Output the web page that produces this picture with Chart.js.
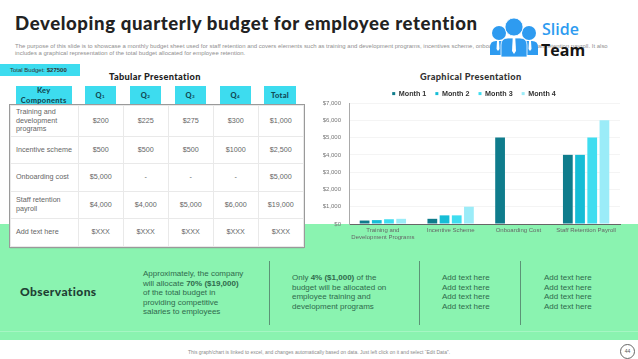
<!DOCTYPE html>
<html>
<head>
<meta charset="utf-8">
<script src="https://cdn.jsdelivr.net/npm/chart.js@4"></script>
<style>
html, body { margin: 0; padding: 0; background: #fff; }
#page { position: relative; width: 638px; height: 359px; overflow: hidden; font-family: "Liberation Sans", Arial, sans-serif; }
#page > * { position: absolute; }
.head { font-family: Lato, sans-serif; font-weight: 900; color: #222; white-space: nowrap; }
#band { left: 0; top: 224px; width: 638px; height: 116px; background: #8af3b0; }
#bandline { left: 0; top: 331px; width: 638px; height: 1px; background: #a5f6c3; }
#title { left: 15px; top: 12px; font-size: 18.6px; letter-spacing: 0.6px; }
.intro { left: 15px; font-size: 5.98px; color: #8f8f8f; white-space: nowrap; }
#budget { left: 0; top: 64px; width: 80px; height: 12px; line-height: 12px; background: #3ddcef; font-size: 6px; color: #333; text-indent: 10px; }
.hcell { top: 86px; height: 19px; background: #3ddcef; display: flex; align-items: center; justify-content: center; text-align: center; font-family: Lato, sans-serif; font-weight: 900; font-size: 7.5px; line-height: 9.5px; color: #124a55; letter-spacing: 0.3px; }
.hcell span { font-size: 4.5px; position: relative; top: 1px; }
#tbl { left: 10px; top: 105px; width: 293px; height: 141px; border-collapse: collapse; table-layout: fixed; background: #fff; outline: 1px solid #9a9a9a; box-shadow: 0 1px 1px #888; font-size: 7.2px; color: #666; }
#tbl td { border: 1px solid #e9e9e9; text-align: center; padding: 0; line-height: 8.8px; }
#tbl td:first-child { text-align: left; padding-left: 5px; }
#chartbox { left: 310px; top: 81px; width: 320px; height: 165px; }
.obs { font-size: 8px; line-height: 9.6px; color: #2f6a4c; white-space: nowrap; }
.divider { top: 261px; width: 1px; height: 64px; background: #5c9376; }
#foot { left: 0; width: 638px; top: 349px; text-align: center; font-size: 5px; color: #8a8a8a; }
#pageno { left: 620px; top: 344px; width: 13px; height: 13px; border: 1px solid #666; border-radius: 50%; text-align: center; line-height: 13px; font-size: 5px; color: #555; }
.logo { font-family: "Open Sans", sans-serif; font-weight: 600; font-size: 16px; white-space: nowrap; }
</style>
</head>
<body>
<div id="page">
  <div id="band"></div>
  <div id="bandline"></div>
  <div id="title" class="head">Developing quarterly budget for employee retention</div>
  <div class="intro" style="top:42.5px">The purpose of this slide is to showcase a monthly budget sheet used for staff retention and covers elements such as training and development programs, incentives scheme, onboarding cost, and staff retention payroll. It also</div>
  <div class="intro" style="top:49.5px">includes a graphical representation of the total budget allocated for employee retention.</div>

  <svg style="left:489px;top:17px" width="52" height="40" viewBox="0 0 52 40">
    <g fill="#2e9bf0">
      <circle cx="10" cy="16" r="7"/>
      <circle cx="40" cy="16" r="7"/>
      <path d="M1 38 V30 Q1 24 7 24 H14 V38 Z"/>
      <path d="M49 38 V30 Q49 24 43 24 H36 V38 Z"/>
      <circle cx="25" cy="10" r="9" stroke="#fff" stroke-width="0.8"/>
      <path d="M12 40 V28 Q12 21 19 21 H31 Q38 21 38 28 V40 Z" stroke="#fff" stroke-width="0.8"/>
    </g>
    <g fill="#fff">
      <path d="M23.7 21 H26.3 L27 34 L25 37 L23 34 Z"/>
      <path d="M8 24 H10 L10.5 32 L9 34 L7.5 32 Z"/>
      <path d="M40 24 H42 L42.5 32 L41 34 L39.5 32 Z"/>
    </g>
  </svg>
  <div class="logo" style="left:542px;top:18px;color:#2e9bf0">Slide</div>
  <div class="logo" style="left:541px;top:39px;color:#151515;font-weight:700">Team</div>

  <div id="budget">Total Budget: <b>$27500</b></div>
  <div class="head" style="left:109px;top:71px;font-size:9.2px;letter-spacing:0.35px">Tabular Presentation</div>
  <div class="head" style="left:420px;top:71px;font-size:9.2px;letter-spacing:0.35px;color:#333">Graphical Presentation</div>

  <div class="hcell" style="left:16px;width:55.5px">Key<br>Components</div>
  <div class="hcell" style="left:84.5px;width:31.5px">Q<span>1</span></div>
  <div class="hcell" style="left:130px;width:31px">Q<span>2</span></div>
  <div class="hcell" style="left:174.5px;width:31.5px">Q<span>3</span></div>
  <div class="hcell" style="left:219.5px;width:31.5px">Q<span>4</span></div>
  <div class="hcell" style="left:264px;width:32px">Total</div>
  <table id="tbl"></table>

  <div id="chartbox"><canvas id="budgetChart" width="320" height="165"></canvas></div>

  <div class="head" style="left:20px;top:284px;font-size:12px;letter-spacing:0.4px;color:#1f4034">Observations</div>
  <div class="obs" style="left:143px;top:269px">Approximately, the company<br>will allocate <b>70% ($19,000)</b><br>of the total budget in<br>providing competitive<br>salaries to employees</div>
  <div class="divider" style="left:269px"></div>
  <div class="obs" style="left:292px;top:273px">Only <b>4% ($1,000)</b> of the<br>budget will be allocated on<br>employee training and<br>development programs</div>
  <div class="divider" style="left:419px"></div>
  <div class="obs" style="left:442px;top:273px">Add text here<br>Add text here<br>Add text here<br>Add text here</div>
  <div class="divider" style="left:520px"></div>
  <div class="obs" style="left:544px;top:273px">Add text here<br>Add text here<br>Add text here<br>Add text here</div>

  <div id="foot">This graph/chart is linked to excel, and changes automatically based on data. Just left click on it and select &ldquo;Edit Data&rdquo;.</div>
  <div id="pageno">44</div>
</div>

<script>
'use strict';

var categories = [['Training and', 'Development Programs'], 'Incentive Scheme', 'Onboarding Cost', 'Staff Retention Payroll'];
var month1 = [200, 300, 5000, 4000];
var month2 = [225, 500, 0, 4000];
var month3 = [275, 500, 0, 5000];
var month4 = [300, 1000, 0, 6000];

var rowNames = [['Training and', 'development', 'programs'], ['Incentive scheme'], ['Onboarding cost'], ['Staff retention', 'payroll'], ['Add text here']];
var rowValues = [
    ['$200', '$225', '$275', '$300', '$1,000'],
    ['$500', '$500', '$500', '$1000', '$2,500'],
    ['$5,000', '-', '-', '-', '$5,000'],
    ['$4,000', '$4,000', '$5,000', '$6,000', '$19,000'],
    ['$XXX', '$XXX', '$XXX', '$XXX', '$XXX']
];
var rowHeights = [31, 27, 28, 27, 28];
var colWidths = [67.7, 45, 45, 45, 45, 45.3];

// table on the left
var html = '<colgroup>' + colWidths.map(function (w) { return '<col style="width:' + w + 'px">'; }).join('') + '</colgroup>';
rowNames.forEach(function (name, i) {
    html += '<tr style="height:' + rowHeights[i] + 'px"><td>' + name.join('<br>') + '</td>';
    rowValues[i].forEach(function (v) { html += '<td>' + v + '</td>'; });
    html += '</tr>';
});
document.getElementById('tbl').innerHTML = html;

var tickFont = { family: '"Liberation Sans", Arial, sans-serif', size: 6, lineHeight: 1.15 };

// legend keeps its wide item gaps but takes less height, and sits a bit right of centre
var shortLegend = {
    id: 'shortLegend',
    beforeInit: function (chart) {
        var fit = chart.legend.fit;
        chart.legend.fit = function () {
            fit.call(this);
            this.height = 22;
        };
    },
    afterLayout: function (chart) {
        chart.legend.left += 18;
    }
};

var ctx = document.getElementById('budgetChart').getContext('2d');
var chart = new Chart(ctx, {
    type: 'bar',
    plugins: [shortLegend],
    data: {
        labels: categories,
        datasets: [
            { label: 'Month 1', data: month1, backgroundColor: '#0f7c8c' },
            { label: 'Month 2', data: month2, backgroundColor: '#16bdd6' },
            { label: 'Month 3', data: month3, backgroundColor: '#3fddf0' },
            { label: 'Month 4', data: month4, backgroundColor: '#9becf8' }
        ]
    },
    options: {
        responsive: false,
        animation: false,
        layout: { padding: { top: 0, right: 10, bottom: 0, left: 0 } },
        datasets: { bar: { categoryPercentage: 0.72, barPercentage: 0.8 } },
        plugins: {
            tooltip: { enabled: false },
            legend: {
                position: 'top',
                labels: {
                    usePointStyle: true,
                    pointStyle: 'rect',
                    boxWidth: 3,
                    boxHeight: 3,
                    padding: 9,
                    color: '#333',
                    font: { family: tickFont.family, size: 7.2, weight: 'bold' }
                }
            }
        },
        scales: {
            x: {
                grid: { display: false, tickLength: 0 },
                border: { color: '#666', width: 1 },
                ticks: { color: '#666', font: tickFont, padding: 3, maxRotation: 0, autoSkip: false },
                afterFit: function (axis) { axis.height = 22; }
            },
            y: {
                min: 0,
                max: 7000,
                grid: { color: '#f4f4f4', tickLength: 0 },
                border: { color: '#aaa', width: 1 },
                ticks: {
                    stepSize: 1000,
                    color: '#777',
                    padding: 8,
                    font: tickFont,
                    callback: function (v) { return '$' + v.toLocaleString('en-US'); }
                },
                afterFit: function (axis) { axis.width = 39; }
            }
        }
    }
});
</script>
</body>
</html>
